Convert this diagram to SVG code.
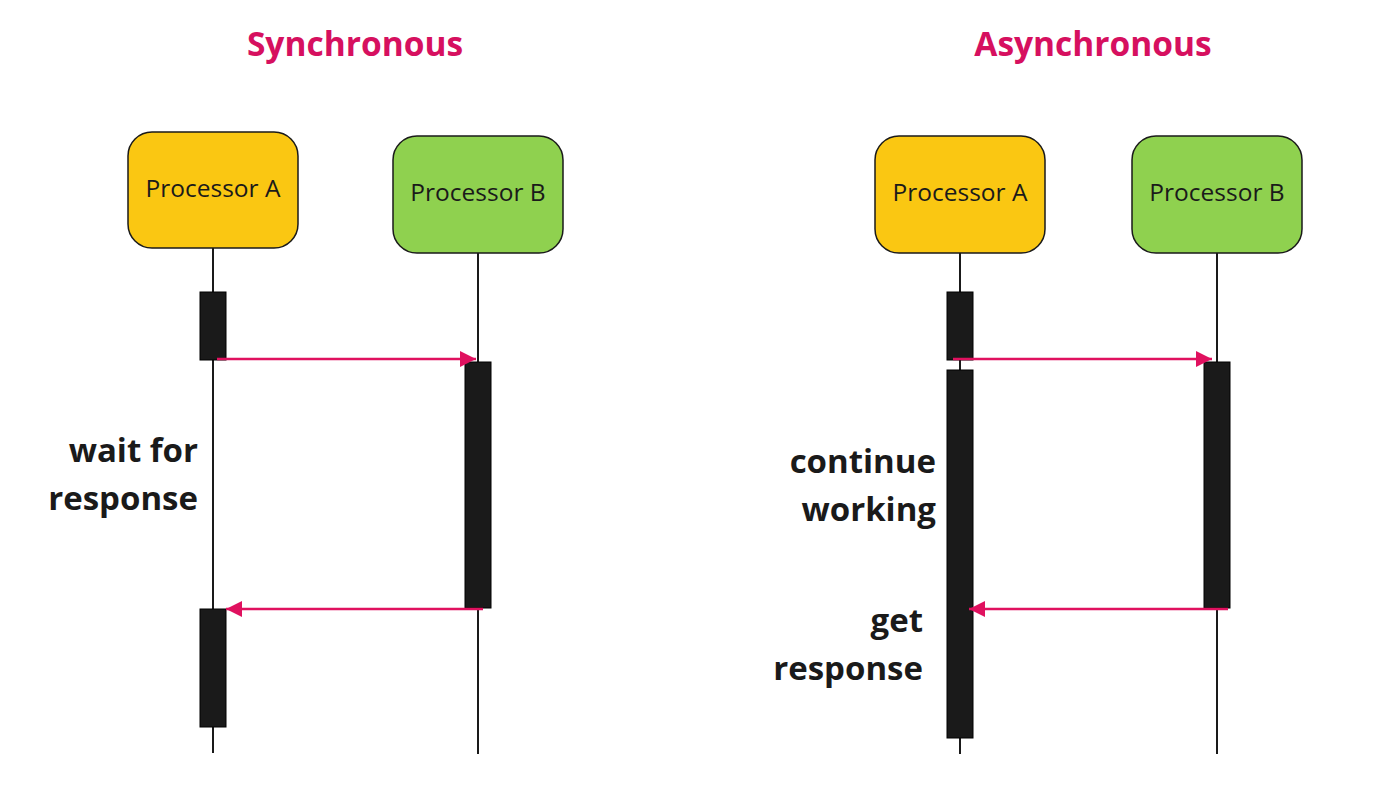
<svg xmlns="http://www.w3.org/2000/svg" width="1400" height="796" viewBox="0 0 1400 796">
<defs>
<style>
.title{font-family:"Open Sans","Noto Sans",sans-serif;font-weight:700;font-size:33.5px;fill:#D6105F;text-anchor:middle}
.box{stroke:#1a1a1a;stroke-width:1.5}
.pa{fill:#FAC712}
.pb{fill:#8FD14F}
.blabel{font-family:"Open Sans","Noto Sans",sans-serif;font-size:24.5px;fill:#1a1a1a;text-anchor:middle}
.life{stroke:#1a1a1a;stroke-width:2}
.act{fill:#1a1a1a;stroke:#000;stroke-width:1}
.msg{stroke:#E0115F;stroke-width:2.5;fill:none;marker-end:url(#ah)}
.note{font-family:"Open Sans","Noto Sans",sans-serif;font-weight:700;font-size:33px;fill:#1a1a1a;text-anchor:end}
</style>
<marker id="ah" viewBox="0 0 16 16" refX="16" refY="8" markerWidth="16" markerHeight="16" markerUnits="userSpaceOnUse" orient="auto">
<path d="M0,0 L16,8 L0,16 z" fill="#E0115F"/>
</marker>
</defs>
<rect width="1400" height="796" fill="#fff"/>
<text class="title" x="355" y="56">Synchronous</text>
<text class="title" x="1093" y="56">Asynchronous</text>

<g id="sync-processor-a">
<rect class="box pa" x="128" y="132" width="170" height="116" rx="24"/>
<text class="blabel" x="213" y="197">Processor A</text>
<line class="life" x1="213" y1="248" x2="213" y2="753"/>
<rect class="act" x="200" y="292" width="26" height="68"/>
<rect class="act" x="200" y="609" width="26" height="118"/>
</g>
<g id="sync-processor-b">
<rect class="box pb" x="393" y="136" width="170" height="117" rx="24"/>
<text class="blabel" x="478" y="201">Processor B</text>
<line class="life" x1="478" y1="253" x2="478" y2="754"/>
<rect class="act" x="465" y="362" width="26" height="246"/>
</g>
<g id="async-processor-a">
<rect class="box pa" x="875" y="136" width="170" height="117" rx="24"/>
<text class="blabel" x="960" y="201">Processor A</text>
<line class="life" x1="960" y1="253" x2="960" y2="754"/>
<rect class="act" x="947" y="292" width="26" height="68"/>
<rect class="act" x="947" y="370" width="26" height="368"/>
</g>
<g id="async-processor-b">
<rect class="box pb" x="1132" y="136" width="170" height="117" rx="24"/>
<text class="blabel" x="1217" y="201">Processor B</text>
<line class="life" x1="1217" y1="253" x2="1217" y2="754"/>
<rect class="act" x="1204" y="362" width="26" height="246"/>
</g>

<g id="connectors">
<line class="msg" x1="217" y1="359" x2="476" y2="359"/>
<line class="msg" x1="483" y1="609" x2="226" y2="609"/>
<line class="msg" x1="953" y1="359" x2="1212" y2="359"/>
<line class="msg" x1="1228" y1="609" x2="969" y2="609"/>
</g>

<g id="labels">
<text class="note" x="198" y="462">wait for</text>
<text class="note" x="198" y="510">response</text>
<text class="note" x="936" y="473">continue</text>
<text class="note" x="936" y="521">working</text>
<text class="note" x="923" y="632">get</text>
<text class="note" x="923" y="680">response</text>
</g>
</svg>
